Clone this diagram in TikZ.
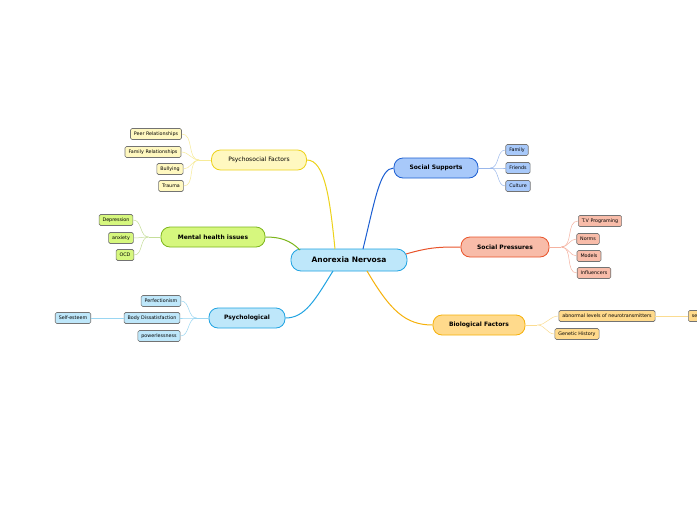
\documentclass[tikz,border=0pt]{standalone}
\usepackage{fontspec}
\setmainfont{DejaVu Sans}
\usepackage{tikz}
\usetikzlibrary{calc}

\definecolor{ylwF}{HTML}{FFF8C0}\definecolor{ylwD}{HTML}{EDD21A}
\definecolor{grnF}{HTML}{D6F77E}\definecolor{grnD}{HTML}{7DB61C}
\definecolor{bluF}{HTML}{BEE7FA}\definecolor{bluD}{HTML}{1FA3E2}
\definecolor{supF}{HTML}{A8C9FA}\definecolor{supD}{HTML}{1C5FD2}
\definecolor{preF}{HTML}{F8BCA9}\definecolor{preD}{HTML}{E9542B}
\definecolor{bioF}{HTML}{FFDA8C}\definecolor{bioD}{HTML}{F6B10A}

\begin{document}
\begin{tikzpicture}[x=1pt,y=-1pt,
    branch/.style={draw=#1, line width=0.8pt, rounded corners=9pt, minimum height=20pt, inner xsep=8pt, font=\fontsize{6}{7}\selectfont\bfseries},
    leaf/.style={draw=black!55, fill=#1, line width=0.6pt, rounded corners=1.5pt, minimum height=11pt, inner xsep=3.5pt, inner ysep=0pt, font=\fontsize{4.8}{5.5}\selectfont},
    trunk/.style={draw=#1, line width=1pt},
    twig/.style={draw=#1!45, line width=0.5pt}]
    \clip (0,0) rectangle (697,520);
    \fill[white] (0,0) rectangle (697,520);

    % centre
    \node[draw=bluD, fill=bluF, line width=0.8pt, rounded corners=10pt, minimum width=116pt, minimum height=22pt, font=\fontsize{7.5}{9}\selectfont\bfseries] (root) at (349,260) {Anorexia Nervosa};

    % branches
    \node[branch=ylwD, fill=ylwF, minimum width=95pt, font=\fontsize{6}{7}\selectfont] (psysoc) at (259,160) {Psychosocial Factors};
    \node[branch=grnD, fill=grnF, minimum width=104pt] (mental) at (213,237) {Mental health issues};
    \node[branch=bluD, fill=bluF, minimum width=76pt] (psych) at (247,318) {Psychological};
    \node[branch=supD, fill=supF, minimum width=84pt] (supp) at (436,168) {Social Supports};
    \node[branch=preD, fill=preF, minimum width=88pt] (press) at (505,247) {Social Pressures};
    \node[branch=bioD, fill=bioF, minimum width=92pt] (bio) at (479,325) {Biological Factors};

    \draw[trunk=ylwD] (335,249) .. controls (330,200) and (325,160) .. (psysoc.east);
    \draw[trunk=grnD] (300,250) .. controls (290,240) and (280,237) .. (mental.east);
    \draw[trunk=bluD] (333,271) .. controls (315,300) and (305,318) .. (psych.east);
    \draw[trunk=supD] (363,249) .. controls (375,200) and (380,168) .. (supp.west);
    \draw[trunk=preD] (406,254) .. controls (430,247) and (440,247) .. (press.west);
    \draw[trunk=bioD] (367,271) .. controls (390,310) and (405,325) .. (bio.west);

    % leaves
    \node[leaf=ylwF] (peer) at (156,134) {Peer Relationships};
    \node[leaf=ylwF] (famrel) at (153,152) {Family Relationships};
    \node[leaf=ylwF] (bully) at (170,169) {Bullying};
    \node[leaf=ylwF] (trauma) at (171,186) {Trauma};
    \node[leaf=grnF] (depr) at (116,220) {Depression};
    \node[leaf=grnF] (anx) at (121,238) {anxiety};
    \node[leaf=grnF] (ocd) at (125,255) {OCD};
    \node[leaf=bluF] (perf) at (161,301) {Perfectionism};
    \node[leaf=bluF] (body) at (152,318) {Body Dissatisfaction};
    \node[leaf=bluF] (power) at (159,336) {powerlessness};
    \node[leaf=bluF] (esteem) at (73,318) {Self-esteem};
    \node[leaf=supF] (family) at (517,150) {Family};
    \node[leaf=supF] (friends) at (518,168) {Friends};
    \node[leaf=supF] (culture) at (518,186) {Culture};
    \node[leaf=preF] (tv) at (600,221) {T.V Programing};
    \node[leaf=preF] (norms) at (588,239) {Norms};
    \node[leaf=preF] (models) at (589,256) {Models};
    \node[leaf=preF] (influ) at (594,273) {Influencers};
    \node[leaf=bioF] (neuro) at (607,316) {abnormal levels of neurotransmitters};
    \node[leaf=bioF] (genet) at (577,334) {Genetic History};
    \node[leaf=bioF, anchor=west] (sero) at (688,316) {serotonin};

    % twigs
    \coordinate (fpsysoc) at ($(psysoc.west)+(-12,0)$);
    \draw[twig=ylwD] (psysoc.west) -- (fpsysoc);
    \foreach \l in {peer,famrel,bully,trauma}
        \draw[twig=ylwD] (fpsysoc) to[out=180,in=0] (\l.east);
    \coordinate (fmental) at ($(mental.west)+(-12,0)$);
    \draw[twig=grnD] (mental.west) -- (fmental);
    \foreach \l in {depr,anx,ocd}
        \draw[twig=grnD] (fmental) to[out=180,in=0] (\l.east);
    \coordinate (fpsych) at ($(psych.west)+(-12,0)$);
    \draw[twig=bluD] (psych.west) -- (fpsych);
    \foreach \l in {perf,body,power}
        \draw[twig=bluD] (fpsych) to[out=180,in=0] (\l.east);
    \draw[twig=bluD] (body.west) -- (esteem.east);
    \coordinate (fsupp) at ($(supp.east)+(12,0)$);
    \draw[twig=supD] (supp.east) -- (fsupp);
    \foreach \l in {family,friends,culture}
        \draw[twig=supD] (fsupp) to[out=0,in=180] (\l.west);
    \coordinate (fpress) at ($(press.east)+(12,0)$);
    \draw[twig=preD] (press.east) -- (fpress);
    \foreach \l in {tv,norms,models,influ}
        \draw[twig=preD] (fpress) to[out=0,in=180] (\l.west);
    \coordinate (fbio) at ($(bio.east)+(12,0)$);
    \draw[twig=bioD] (bio.east) -- (fbio);
    \foreach \l in {neuro,genet}
        \draw[twig=bioD] (fbio) to[out=0,in=180] (\l.west);
    \draw[twig=bioD] (neuro.east) -- (sero.west);
\end{tikzpicture}
\end{document}
